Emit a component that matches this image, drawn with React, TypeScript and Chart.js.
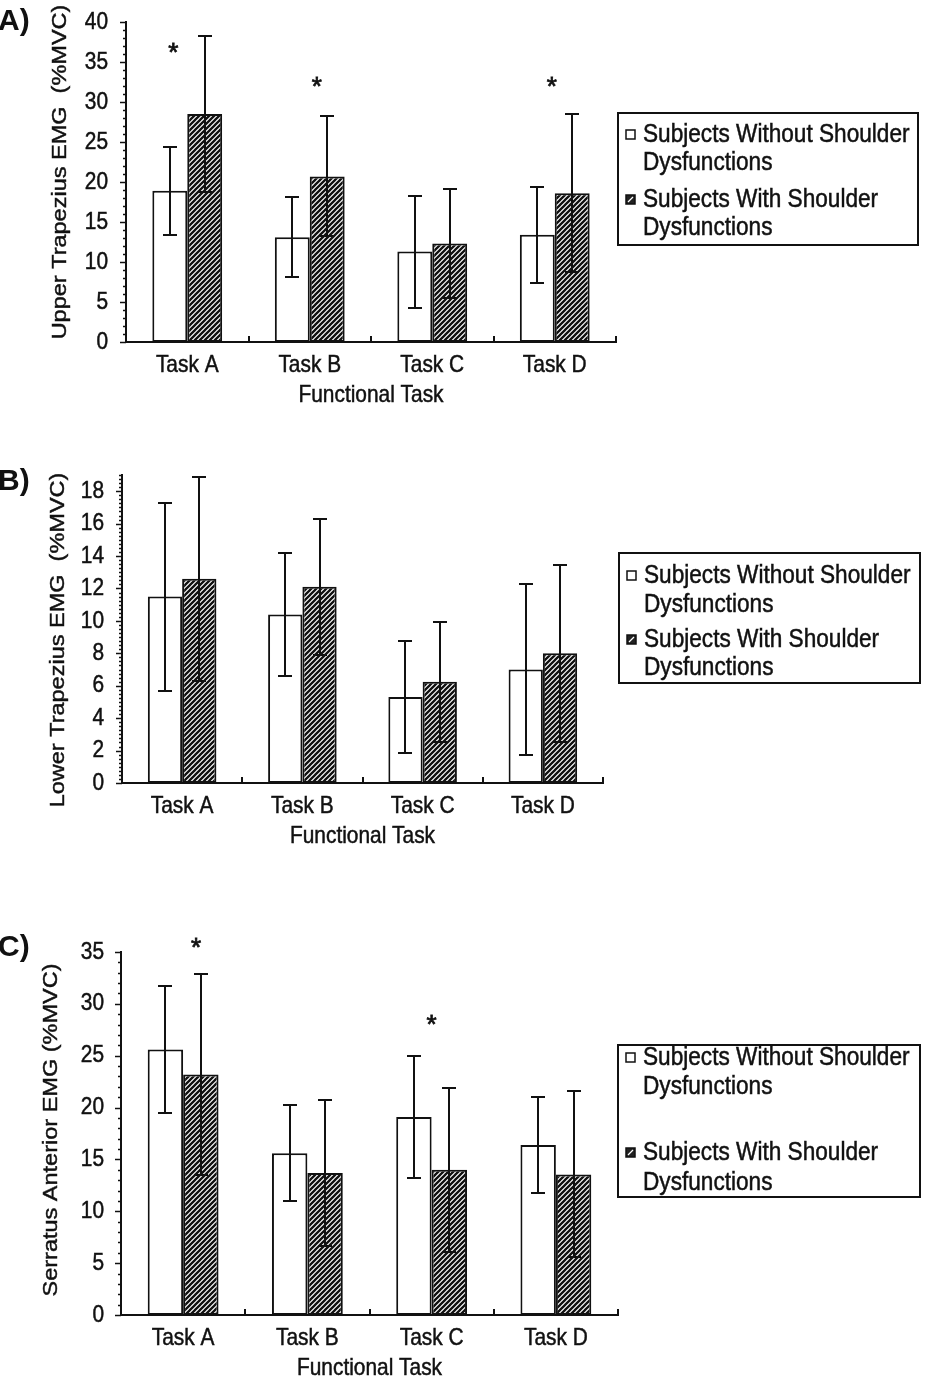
import React, { useEffect, useRef } from 'react';
import { Chart, registerables } from 'chart.js';

Chart.register(...registerables);

// ---- data -------------------------------------------------------------
const tasks = ['Task A', 'Task B', 'Task C', 'Task D'];
const groupNames = ['Subjects Without Shoulder Dysfunctions', 'Subjects With Shoulder Dysfunctions'];
const xTitle = 'Functional Task';

// (A) upper trapezius, %MVC
const upperTrapWithout = [18.9, 13.1, 11.3, 13.4];
const upperTrapWithoutSD = [5.5, 5.0, 7.0, 6.0];
const upperTrapWith = [28.5, 20.7, 12.3, 18.6];
const upperTrapWithSD = [9.7, 7.5, 6.8, 9.9];
const upperTrapStarTasks = [0, 1, 3];
const upperTrapStarValues = [36.9, 32.7, 32.7];
const upperTrapTicks = [0, 5, 10, 15, 20, 25, 30, 35, 40];

// (B) lower trapezius, %MVC
const lowerTrapWithout = [11.5, 10.4, 5.3, 7.0];
const lowerTrapWithoutSD = [5.8, 3.8, 3.45, 5.25];
const lowerTrapWith = [12.6, 12.1, 6.25, 8.0];
const lowerTrapWithSD = [6.3, 4.2, 3.7, 5.45];
const lowerTrapStarTasks: number[] = [];
const lowerTrapStarValues: number[] = [];
const lowerTrapTicks = [0, 2, 4, 6, 8, 10, 12, 14, 16, 18];

// (C) serratus anterior, %MVC
const serratusWithout = [25.6, 15.6, 19.1, 16.4];
const serratusWithoutSD = [6.1, 4.6, 5.85, 4.65];
const serratusWith = [23.2, 13.7, 14.0, 13.55];
const serratusWithSD = [9.7, 7.0, 7.9, 8.0];
const serratusStarTasks = [0, 2];
const serratusStarValues = [36.0, 28.6];
const serratusTicks = [0, 5, 10, 15, 20, 25, 30, 35];

// ---- styling ----------------------------------------------------------
const FONT = "'Liberation Sans', Arial, sans-serif";
const INK = '#111';
const W = 926;
const SQUEEZE = 0.87; // condensed look of the lettering

type Legend = { x: number; y: number; w: number; h: number; lines: number[] };
type PanelCfg = {
  letter: string;
  letterY: number;
  yTitle: string;
  canvasTop: number;
  canvasHeight: number;
  axisLeft: number;
  axisRight: number;
  axisTop: number;
  axisBottom: number;
  yMax: number;
  yMinor: number;
  yLabels: number[];
  yTitleX: number;
  yTitleY: number;
  yLabelRight: number;
  without: number[];
  withoutSD: number[];
  withDys: number[];
  withSD: number[];
  starTasks: number[];
  starValues: number[];
  starNudge: number[];
  legend: Legend;
};

const panels: PanelCfg[] = [
  {
    letter: 'A)', letterY: 22, yTitle: 'Upper Trapezius EMG  (%MVC)',
    canvasTop: 0, canvasHeight: 420,
    axisLeft: 126, axisRight: 616, axisTop: 22, axisBottom: 342,
    yMax: 40, yMinor: 1, yLabels: upperTrapTicks, yTitleX: 60, yTitleY: 172, yLabelRight: 108,
    without: upperTrapWithout, withoutSD: upperTrapWithoutSD,
    withDys: upperTrapWith, withSD: upperTrapWithSD,
    starTasks: upperTrapStarTasks, starValues: upperTrapStarValues, starNudge: [-14, 7, -3],
    legend: { x: 618, y: 113, w: 300, h: 132, lines: [135, 163, 200, 228] },
  },
  {
    letter: 'B)', letterY: 32, yTitle: 'Lower Trapezius EMG  (%MVC)',
    canvasTop: 450, canvasHeight: 411,
    axisLeft: 122, axisRight: 603, axisTop: 25, axisBottom: 333,
    yMax: 19, yMinor: 0.25, yLabels: lowerTrapTicks, yTitleX: 58, yTitleY: 190, yLabelRight: 104,
    without: lowerTrapWithout, withoutSD: lowerTrapWithoutSD,
    withDys: lowerTrapWith, withSD: lowerTrapWithSD,
    starTasks: lowerTrapStarTasks, starValues: lowerTrapStarValues, starNudge: [],
    legend: { x: 619, y: 103, w: 301, h: 130, lines: [126, 155, 190, 218] },
  },
  {
    letter: 'C)', letterY: 28, yTitle: 'Serratus Anterior EMG (%MVC)',
    canvasTop: 920, canvasHeight: 460,
    axisLeft: 121, axisRight: 618, axisTop: 32, axisBottom: 395,
    yMax: 35, yMinor: 1, yLabels: serratusTicks, yTitleX: 51, yTitleY: 210, yLabelRight: 104,
    without: serratusWithout, withoutSD: serratusWithoutSD,
    withDys: serratusWith, withSD: serratusWithSD,
    starTasks: serratusStarTasks, starValues: serratusStarValues, starNudge: [13, 0],
    legend: { x: 618, y: 125, w: 302, h: 152, lines: [138, 167, 233, 263] },
  },
];

function makeHatch(): CanvasPattern | string {
  const s = 5;
  const c = document.createElement('canvas');
  c.width = s;
  c.height = s;
  const g = c.getContext('2d');
  if (!g) return '#555';
  g.fillStyle = '#fff';
  g.fillRect(0, 0, s, s);
  g.strokeStyle = INK;
  g.lineWidth = 2.3;
  g.beginPath();
  g.moveTo(-1, s + 1); g.lineTo(s + 1, -1);
  g.moveTo(-1, 1); g.lineTo(1, -1);
  g.moveTo(s - 1, s + 1); g.lineTo(s + 1, s - 1);
  g.stroke();
  return g.createPattern(c, 'repeat') || '#555';
}

function splitLabel(name: string): string[] {
  const words = name.split(' ');
  return [words.slice(0, -1).join(' '), words[words.length - 1]];
}

// text drawn with a horizontal squeeze around its anchor point, slightly heavy
function squeezedText(
  ctx: CanvasRenderingContext2D, text: string, x: number, y: number,
  align: CanvasTextAlign, size: number, rotate = false,
) {
  ctx.save();
  ctx.translate(x, y);
  if (rotate) {
    ctx.rotate(-Math.PI / 2);
    ctx.scale(1, SQUEEZE);
  } else {
    ctx.scale(SQUEEZE, 1);
  }
  ctx.font = `${size}px ${FONT}`;
  ctx.textAlign = align;
  ctx.textBaseline = 'middle';
  ctx.fillStyle = INK;
  ctx.strokeStyle = INK;
  ctx.lineWidth = 0.5;
  ctx.fillText(text, 0, 0);
  ctx.strokeText(text, 0, 0);
  ctx.restore();
}

function Panel({ cfg }: { cfg: PanelCfg }) {
  const ref = useRef<HTMLCanvasElement>(null);

  useEffect(() => {
    const canvas = ref.current;
    if (!canvas) return;
    const hatch = makeHatch();
    const xHeight = cfg.canvasHeight - cfg.axisBottom;
    const sds = [cfg.withoutSD, cfg.withSD];
    const means = [cfg.without, cfg.withDys];

    const decor = {
      id: 'panelDecor',
      afterDatasetsDraw(chart: any) {
        const ctx: CanvasRenderingContext2D = chart.ctx;
        const y = chart.scales.y;
        ctx.save();
        ctx.strokeStyle = INK;
        ctx.lineWidth = 2;
        for (let d = 0; d < 2; d++) {
          const meta = chart.getDatasetMeta(d);
          meta.data.forEach((bar: any, i: number) => {
            const m = means[d][i];
            const s = sds[d][i];
            const yt = Math.round(y.getPixelForValue(m + s));
            const yb = Math.round(y.getPixelForValue(m - s));
            const x = Math.round(bar.x);
            ctx.beginPath();
            ctx.moveTo(x, yt); ctx.lineTo(x, yb);
            ctx.moveTo(x - 7, yt); ctx.lineTo(x + 7, yt);
            ctx.moveTo(x - 7, yb); ctx.lineTo(x + 7, yb);
            ctx.stroke();
          });
        }
        ctx.restore();
      },
      afterDraw(chart: any) {
        const ctx: CanvasRenderingContext2D = chart.ctx;
        const ys = chart.scales.y;
        const xs = chart.scales.x;
        const area = chart.chartArea;
        ctx.save();
        ctx.strokeStyle = INK;
        ctx.fillStyle = INK;

        // y-axis minor / major tick marks
        ctx.lineWidth = 1.5;
        const n = Math.round(cfg.yMax / cfg.yMinor);
        for (let k = 0; k <= n; k++) {
          const v = k * cfg.yMinor;
          const major = cfg.yLabels.some((t) => Math.abs(t - v) < 1e-6);
          const py = Math.round(ys.getPixelForValue(v)) + 0.5;
          ctx.beginPath();
          ctx.moveTo(area.left - (major ? 6 : 3), py);
          ctx.lineTo(area.left, py);
          ctx.stroke();
        }

        // y tick labels and title
        cfg.yLabels.forEach((v) => {
          squeezedText(ctx, String(v), cfg.yLabelRight, ys.getPixelForValue(v), 'right', 24);
        });
        squeezedText(ctx, cfg.yTitle, cfg.yTitleX, cfg.yTitleY, 'center', 23.5, true);

        // x-axis category separators (pointing up)
        ctx.lineWidth = 2;
        const cw = (area.right - area.left) / tasks.length;
        for (let k = 1; k <= tasks.length; k++) {
          const px = Math.round(area.left + k * cw);
          ctx.beginPath();
          ctx.moveTo(px, area.bottom);
          ctx.lineTo(px, area.bottom - 6);
          ctx.stroke();
        }

        // x tick labels and title
        tasks.forEach((t, i) => {
          squeezedText(ctx, t, xs.getPixelForValue(i), area.bottom + 23, 'center', 24);
        });
        squeezedText(ctx, xTitle, (area.left + area.right) / 2, area.bottom + 53, 'center', 24);

        // significance markers
        ctx.font = `26px ${FONT}`;
        ctx.textAlign = 'center';
        ctx.textBaseline = 'middle';
        ctx.lineWidth = 0.8;
        cfg.starTasks.forEach((t, i) => {
          const px = xs.getPixelForValue(t) + (cfg.starNudge[i] || 0);
          const py = ys.getPixelForValue(cfg.starValues[i]) + 7;
          ctx.fillText('*', px, py);
          ctx.strokeText('*', px, py);
        });

        // legend
        const lg = cfg.legend;
        ctx.lineWidth = 2;
        ctx.strokeRect(lg.x, lg.y, lg.w, lg.h);
        groupNames.forEach((name, g) => {
          const parts = splitLabel(name);
          const y1 = lg.lines[g * 2];
          const y2 = lg.lines[g * 2 + 1];
          squeezedText(ctx, parts[0], lg.x + 25, y1, 'left', 26);
          squeezedText(ctx, parts[1], lg.x + 25, y2, 'left', 26);
          const mx = lg.x + 8;
          const my = y1 - 5;
          ctx.lineWidth = 1.5;
          if (g === 0) {
            ctx.fillStyle = '#fff';
            ctx.fillRect(mx, my, 9, 9);
            ctx.strokeRect(mx, my, 9, 9);
          } else {
            ctx.fillStyle = '#222';
            ctx.fillRect(mx, my, 9, 9);
            ctx.strokeRect(mx, my, 9, 9);
            ctx.strokeStyle = '#fff';
            ctx.lineWidth = 1.3;
            ctx.beginPath();
            ctx.moveTo(mx + 2, my + 7);
            ctx.lineTo(mx + 7, my + 2);
            ctx.stroke();
            ctx.strokeStyle = INK;
          }
          ctx.fillStyle = INK;
        });

        // panel letter
        ctx.font = `bold 30px ${FONT}`;
        ctx.textAlign = 'left';
        ctx.textBaseline = 'middle';
        ctx.fillText(cfg.letter, -2, cfg.letterY);
        ctx.restore();
      },
    };

    const chart = new Chart(canvas, {
      type: 'bar',
      data: {
        labels: tasks,
        datasets: [
          {
            label: groupNames[0],
            data: cfg.without,
            backgroundColor: '#fff',
            borderColor: INK,
            borderWidth: 2,
            borderSkipped: false,
            categoryPercentage: 0.57,
            barPercentage: 1,
          },
          {
            label: groupNames[1],
            data: cfg.withDys,
            backgroundColor: hatch as any,
            borderColor: INK,
            borderWidth: 2,
            borderSkipped: false,
            categoryPercentage: 0.57,
            barPercentage: 1,
          },
        ],
      },
      options: {
        animation: false,
        responsive: false,
        devicePixelRatio: 1,
        layout: {
          padding: { left: 0, top: cfg.axisTop, right: W - cfg.axisRight, bottom: 0 },
        },
        plugins: {
          legend: { display: false },
          title: { display: false },
          tooltip: { enabled: false },
        },
        scales: {
          x: {
            grid: { display: false, drawTicks: false },
            border: { display: true, color: INK, width: 2 },
            ticks: { display: false },
            afterFit: (s: any) => { s.height = xHeight; },
          },
          y: {
            min: 0,
            max: cfg.yMax,
            grid: { display: false, drawTicks: false },
            border: { display: true, color: INK, width: 2 },
            ticks: { display: false },
            afterFit: (s: any) => { s.width = cfg.axisLeft; },
          },
        },
      },
      plugins: [decor],
    } as any);

    return () => chart.destroy();
  }, [cfg]);

  return (
    <canvas
      ref={ref}
      width={W}
      height={cfg.canvasHeight}
      style={{ position: 'absolute', left: 0, top: cfg.canvasTop, width: W, height: cfg.canvasHeight }}
    />
  );
}

export default function App() {
  return (
    <div style={{ position: 'absolute', left: 0, top: 0, width: W, height: 1380, background: '#fff', overflow: 'hidden' }}>
      {panels.map((p) => (
        <Panel key={p.letter} cfg={p} />
      ))}
    </div>
  );
}
